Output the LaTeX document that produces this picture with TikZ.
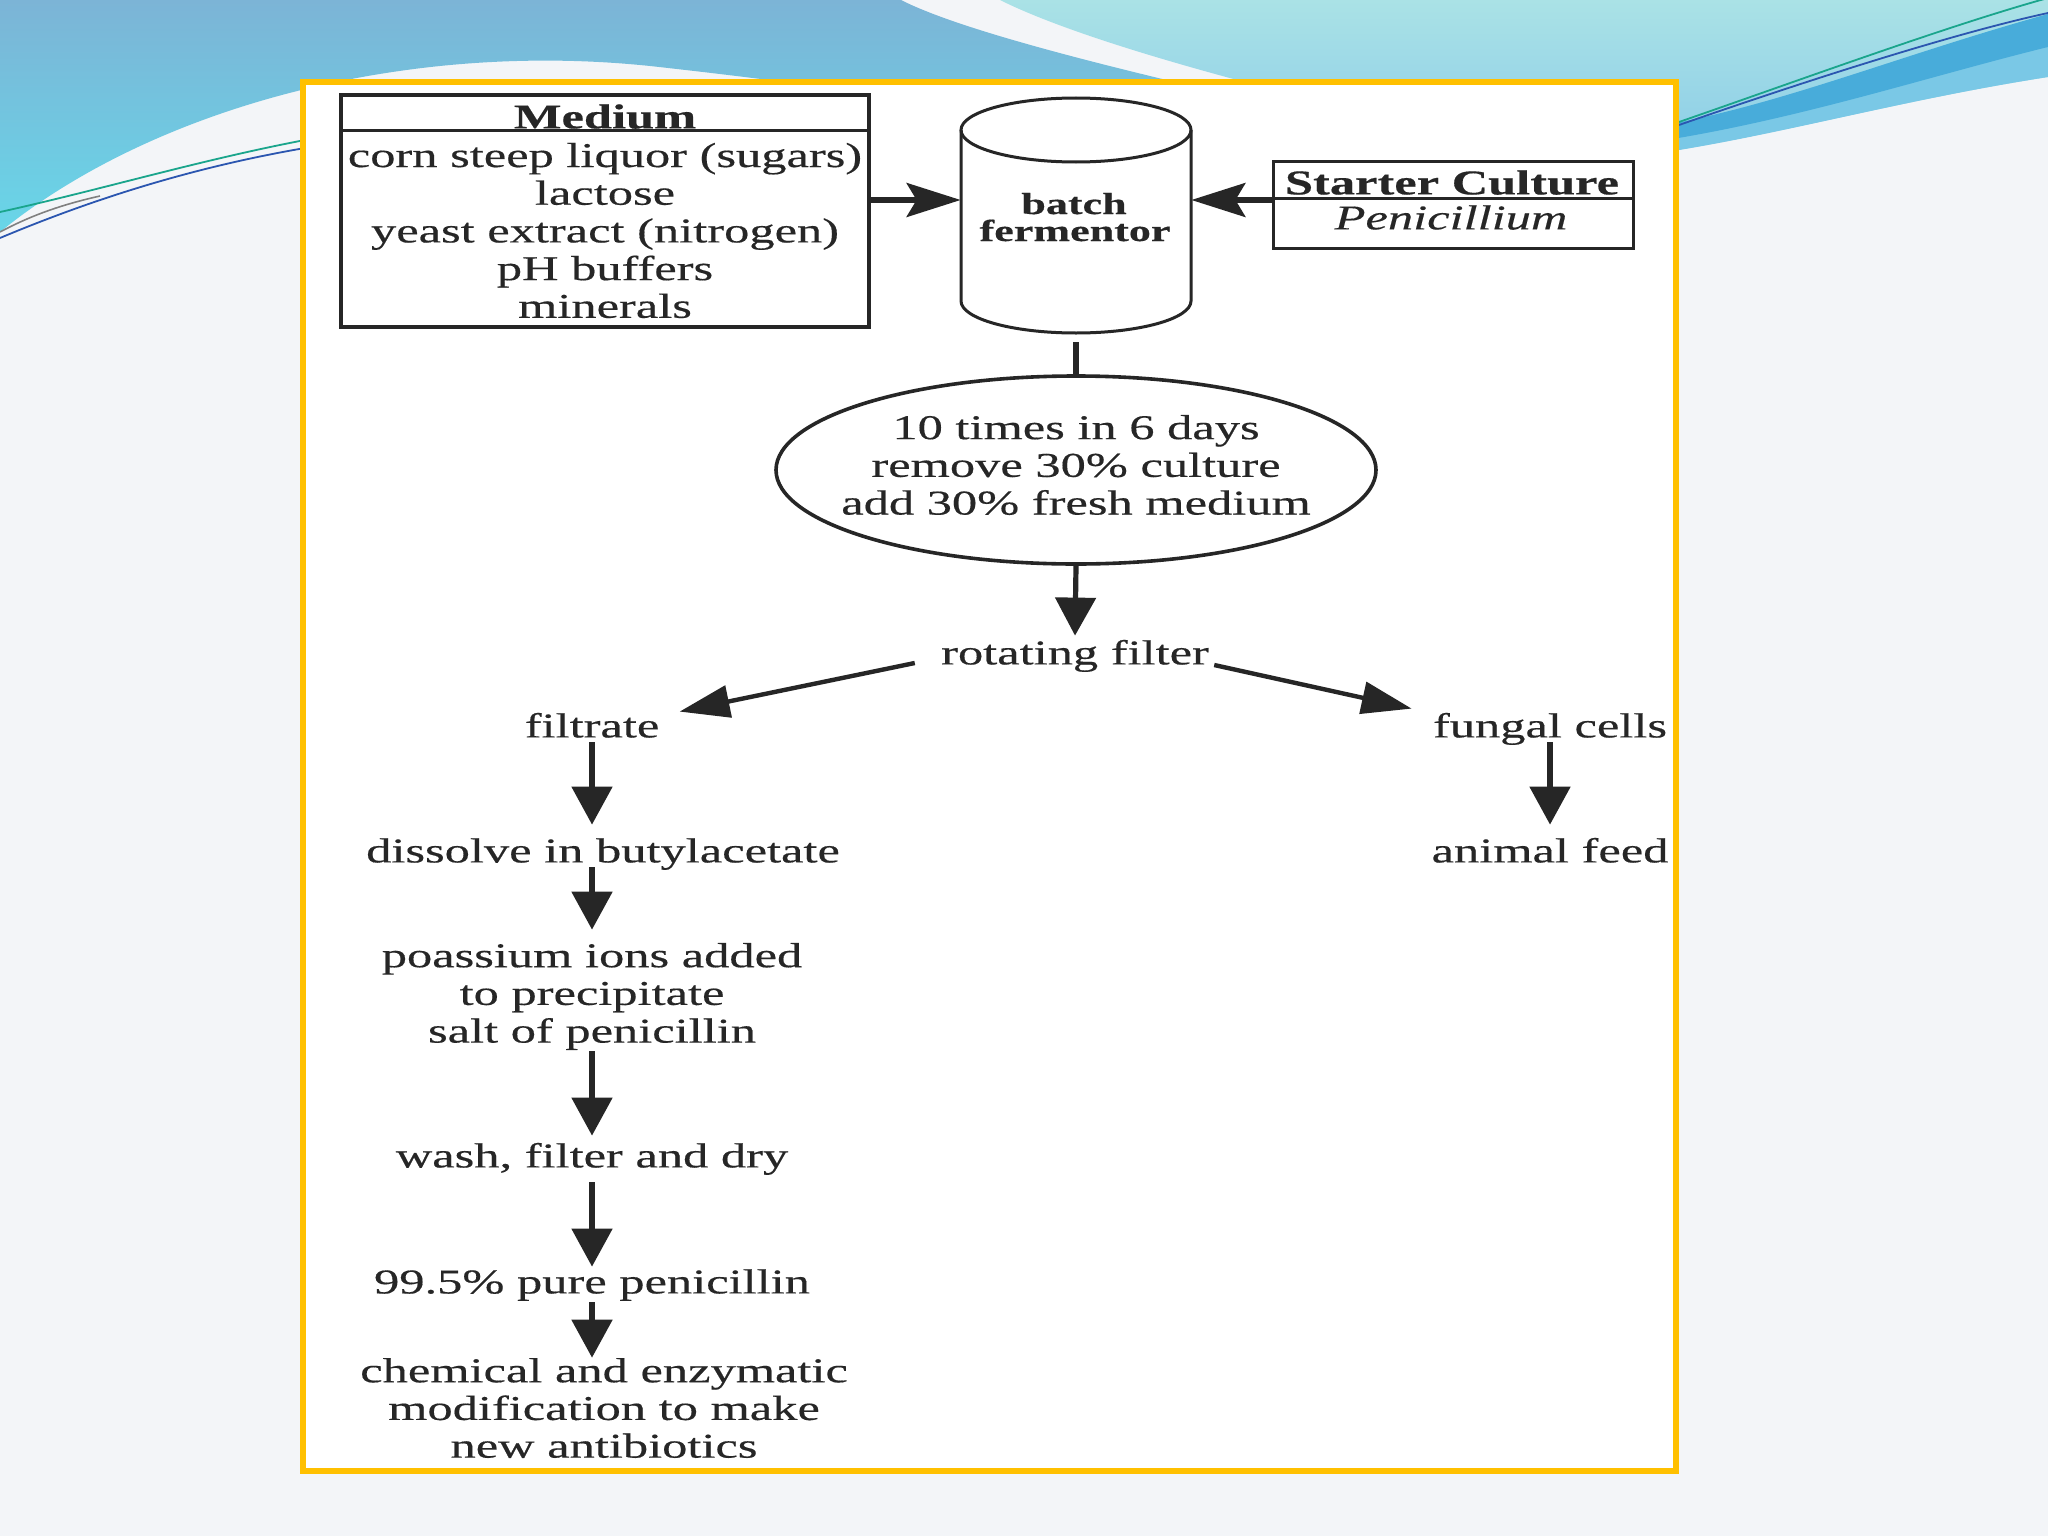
\documentclass[tikz,border=0pt]{standalone}
\usepackage{fontspec}
\setmainfont[FakeStretch=1.45,FakeBold=0.4]{Liberation Serif}
\usetikzlibrary{arrows.meta,shapes.geometric,calc}
\definecolor{ink}{HTML}{262626}
\definecolor{gold}{HTML}{FFC000}
\definecolor{slidebg}{RGB}{243,245,248}
\definecolor{blueA}{RGB}{124,180,214}
\definecolor{blueB}{RGB}{104,214,232}
\definecolor{cyanA}{RGB}{170,226,230}
\definecolor{cyanB}{RGB}{140,205,232}
\definecolor{bandblue}{RGB}{72,172,218}
\definecolor{bandlight}{RGB}{122,200,230}
\definecolor{tealline}{RGB}{26,165,140}
\definecolor{darkline}{RGB}{43,86,176}
\begin{document}
\begin{tikzpicture}[x=0.5pt,y=-0.5pt,
  txt/.style={font=\fontsize{17.4}{18.85}\selectfont, text=ink, inner sep=0pt, text height=14.2pt, text depth=1.8pt},
  btxt/.style={txt, font=\fontsize{17.4}{18.85}\selectfont\bfseries},
  itxt/.style={txt, font=\fontsize{17.4}{18.85}\selectfont\itshape},
  ftxt/.style={txt, font=\fontsize{15.2}{15}\selectfont\bfseries, text height=11.6pt, text depth=1.6pt},
  mtxt/.style={font=\fontsize{17.4}{18.85}\selectfont, text=ink, inner sep=0pt, align=center},
  boxline/.style={draw=ink, line width=1.7pt},
  varr/.style={draw=ink, line width=2.6pt, -{Triangle[length=19pt,width=20pt]}},
  darr/.style={draw=ink, line width=2.2pt, -{Triangle[length=25pt,width=16pt]}},
  harr/.style={draw=ink, line width=2.6pt, -{Stealth[length=27pt,width=17pt,inset=5pt]}}
]
\useasboundingbox (0,0) rectangle (2048,1536);
% slide background
\fill[slidebg] (0,0) rectangle (2048,1536);
% top-right light cyan region
\shade[top color=cyanA, bottom color=cyanB]
  (1000,0) -- (2048,0) -- (2048,77) .. controls (1900,100) and (1780,135) .. (1640,156)
  -- (1275,156) -- (1275,90) .. controls (1140,55) and (1050,25) .. (1000,0) -- cycle;
\fill[bandlight] (2048,46) .. controls (1930,75) and (1800,118) .. (1660,140)
  -- (1660,153) .. controls (1780,135) and (1900,100) .. (2048,77) -- cycle;
\fill[bandblue] (2048,14) .. controls (1900,55) and (1780,105) .. (1660,126)
  -- (1660,141) .. controls (1800,119) and (1930,76) .. (2048,47) -- cycle;
\draw[tealline, line width=0.9pt] (1679,122) .. controls (1800,80) and (1950,25) .. (2048,-2);
\draw[darkline, line width=0.9pt] (1679,125) .. controls (1820,76) and (1960,32) .. (2048,13);
% top-left blue region
\shade[top color=blueA, bottom color=blueB]
  (0,0) -- (901,0) .. controls (950,25) and (1060,55) .. (1200,88) -- (1200,120) -- (950,120)
  -- (950,105) .. controls (850,90) and (750,77) .. (650,66)
  .. controls (400,40) and (150,110) .. (0,232) -- cycle;
\draw[tealline, line width=0.9pt] (0,212) .. controls (100,190) and (200,160) .. (305,140);
\draw[darkline, line width=0.9pt] (0,238) .. controls (100,196) and (200,166) .. (305,148);
\draw[gray, line width=0.8pt] (0,232) .. controls (30,216) and (60,205) .. (100,196);
% yellow frame
\draw[gold, line width=3pt, fill=white] (303,82) rectangle (1676,1471);

% Medium box
\node[boxline, inner sep=0pt, minimum width=264pt, minimum height=116pt] (med) at (605,211) {};
\draw[boxline] ([yshift=-18.5pt]med.north west) -- ([yshift=-18.5pt]med.north east);
\node[btxt] (medt) at (605,116) {Medium};
\node[mtxt] (medb) at (605,230.5) {corn steep liquor (sugars)\\lactose\\yeast extract (nitrogen)\\pH buffers\\minerals};

% batch fermentor (cylinder)
\node[inner sep=0pt, minimum width=115pt, minimum height=117.5pt] (ferm) at (1076,215.5) {};
\draw[draw=ink, line width=1.5pt] (961,130) -- (961,301)
  arc[start angle=180, end angle=360, x radius=57.5pt, y radius=16pt] -- (1191,130);
\draw[draw=ink, line width=1.5pt] (1076,130) ellipse [x radius=57.5pt, y radius=16pt];
\node[ftxt] (batch) at (1074,204) {batch};
\node[ftxt] (fermt) at (1075,231) {fermentor};

% Starter Culture box
\node[draw=ink, line width=1.5pt, inner sep=0pt, minimum width=180pt, minimum height=43.5pt] (sc) at (1453,204.5) {};
\draw[draw=ink, line width=1.5pt] ([yshift=-19.5pt]sc.north west) -- ([yshift=-19.5pt]sc.north east);
\node[btxt] (sct) at (1452,182) {Starter Culture};
\node[itxt] (scp) at (1451,217) {Penicillium};

% arrows into fermentor
\draw[harr] ([yshift=5.5pt]med.east) -- ([yshift=7.75pt]ferm.west);
\draw[harr] ([yshift=2.25pt]sc.west) -- ([yshift=7.75pt]ferm.east);

% ellipse
\node[draw=ink, line width=1.8pt, ellipse, inner sep=0pt, minimum width=300pt, minimum height=94pt] (ell) at (1076,470) {};
\node[mtxt] (ellt) at (1076,465) {10 times in 6 days\\remove 30\% culture\\add 30\% fresh medium};
\draw[draw=ink, line width=3pt, shorten <=4.5pt] (ferm.south) -- (ell.north);

% rotating filter and branches
\node[txt] (rot) at (1075,652) {rotating filter};
\draw[varr] (ell.south) -- (rot.north);
\node[txt] (filt) at (592,725) {filtrate};
\node[txt] (fung) at (1550,725) {fungal cells};
\node[txt] (ani) at (1550,850) {animal feed};
\draw[darr] ($(rot.west)+(-26,11)$) -- ($(filt.north east)+(20,3)$);
\draw[darr] ($(rot.east)+(5,13)$) -- ($(fung.north west)+(-21,0)$);
\draw[varr, shorten <=0.5pt, shorten >=4.5pt] (fung.south) -- (ani.north);

% left column
\node[txt] (diss) at (603,850) {dissolve in butylacetate};
\node[mtxt] (poas) at (592,996.5) {poassium ions added\\to precipitate\\salt of penicillin};
\node[txt] (wash) at (592,1155) {wash, filter and dry};
\node[txt] (pure) at (592,1281) {99.5\% pure penicillin};
\node[mtxt] (chem) at (604,1408) {chemical and enzymatic\\modification to make\\new antibiotics};

\draw[varr, shorten <=0.5pt, shorten >=4.5pt] (filt.south) -- (filt.south |- diss.north);
\draw[varr, shorten <=0.5pt, shorten >=6.5pt] (diss.south -| poas.north) -- (poas.north);
\draw[varr, shorten <=0.5pt, shorten >=1.5pt] (poas.south) -- (wash.north);
\draw[varr, shorten <=5.5pt, shorten >=-1pt] (wash.south) -- (pure.north);
\draw[varr, shorten <=2.5pt, shorten >=0pt] (pure.south) -- (pure.south |- chem.north);
\end{tikzpicture}
\end{document}
